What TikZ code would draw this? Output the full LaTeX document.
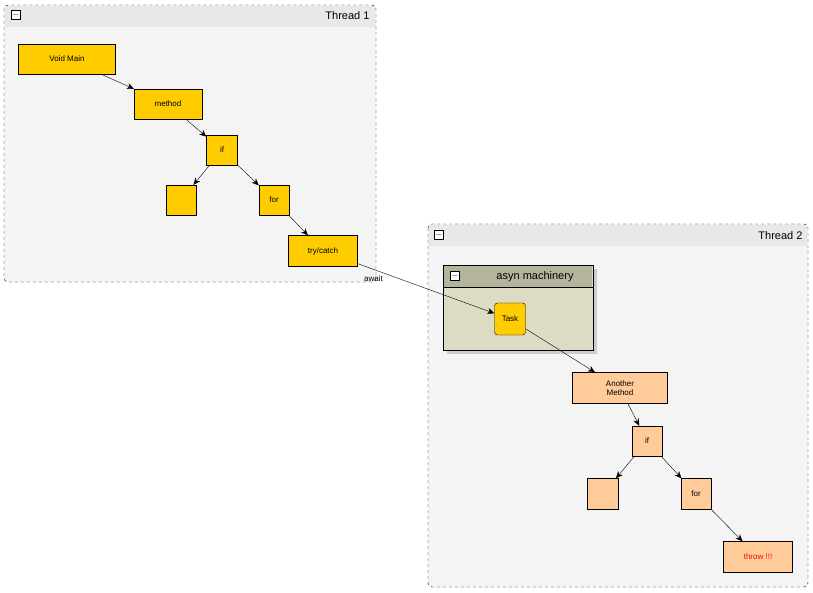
\documentclass[tikz,border=0pt]{standalone}
\usepackage{fontspec}
\setmainfont{Liberation Sans}
\usetikzlibrary{arrows.meta}
\definecolor{gold}{HTML}{FFCC00}
\definecolor{peach}{HTML}{FFCC99}
\definecolor{panel}{HTML}{F4F4F4}
\definecolor{panelhead}{HTML}{E8E8E8}
\definecolor{asynbody}{HTML}{DCDCC4}
\definecolor{asynhead}{HTML}{B4B49C}
\tikzset{
  call/.style={draw, fill=gold, font=\fontsize{8}{9}\selectfont, align=center, inner sep=0pt},
  later/.style={call, fill=peach},
  flow/.style={-{Stealth[length=7pt,width=6pt]}, thin},
  minus/.style={draw, fill=white, minimum size=9pt, inner sep=0pt, font=\bfseries\small}
}
\begin{document}
\begin{tikzpicture}[x=1pt,y=-1pt]
  \useasboundingbox (0,0) rectangle (813,593);
  % thread frames
  \draw[dashed, rounded corners=4pt, fill=panel] (4,5) rectangle (376,282);
  \fill[panelhead] (5,6) rectangle (375,27);
  \node[minus] (m1) at (16,15) {$-$};
  \node[anchor=east, font=\fontsize{11}{12}\selectfont] (t1) at (373,16) {Thread 1};
  \draw[dashed, rounded corners=4pt, fill=panel] (428,224) rectangle (808,587);
  \fill[panelhead] (429,225) rectangle (807,246);
  \node[minus] (m2) at (439,235) {$-$};
  \node[anchor=east, font=\fontsize{11}{12}\selectfont] (t2) at (806,236) {Thread 2};
  % asyn machinery
  \fill[black!20] (447,269) rectangle (597,354);
  \draw[fill=asynbody] (443,265) rectangle (593,350);
  \fill[asynhead] (444,266) rectangle (592,287);
  \draw (443,287.5) -- (593,287.5);
  \node[minus] (m3) at (455,276) {$-$};
  \node[font=\fontsize{11}{12}\selectfont] (am) at (535,277) {asyn machinery};
  % thread 1
  \node[call, minimum width=97pt, minimum height=30pt] (main) at (67,59) {Void Main};
  \node[call, minimum width=68pt, minimum height=30pt] (method) at (168,104) {method};
  \node[call, minimum width=31pt, minimum height=30pt] (if1) at (222,150) {if};
  \node[call, minimum width=30pt, minimum height=30pt] (e1) at (181,200) {};
  \node[call, minimum width=30pt, minimum height=30pt] (for1) at (274,200) {for};
  \node[call, minimum width=69pt, minimum height=31pt] (try) at (323,251) {try/catch};
  % thread 2
  \node[call, rounded corners=3pt, minimum width=31pt, minimum height=32pt] (task) at (510,319) {Task};
  \node[later, minimum width=95pt, minimum height=31pt] (another) at (620,388) {Another\\Method};
  \node[later, minimum width=30pt, minimum height=30pt] (if2) at (647,441) {if};
  \node[later, minimum width=31pt, minimum height=31pt] (e2) at (603,494) {};
  \node[later, minimum width=30pt, minimum height=31pt] (for2) at (696,494) {for};
  \node[later, minimum width=69pt, minimum height=31pt, text=red] (throw) at (758,557) {throw !!!};
  % connectors
  \draw[flow] (main) -- (method);
  \draw[flow] (method) -- (if1);
  \draw[flow] (if1) -- (e1);
  \draw[flow] (if1) -- (for1);
  \draw[flow] (for1) -- (try);
  \draw[flow] (try) -- node[pos=0.2, below left, font=\fontsize{8}{9}\selectfont, inner sep=2pt] (aw) {await} (task);
  \draw[flow] (task) -- (another);
  \draw[flow] (another) -- (if2);
  \draw[flow] (if2) -- (e2);
  \draw[flow] (if2) -- (for2);
  \draw[flow] (for2) -- (throw);
\end{tikzpicture}
\end{document}
